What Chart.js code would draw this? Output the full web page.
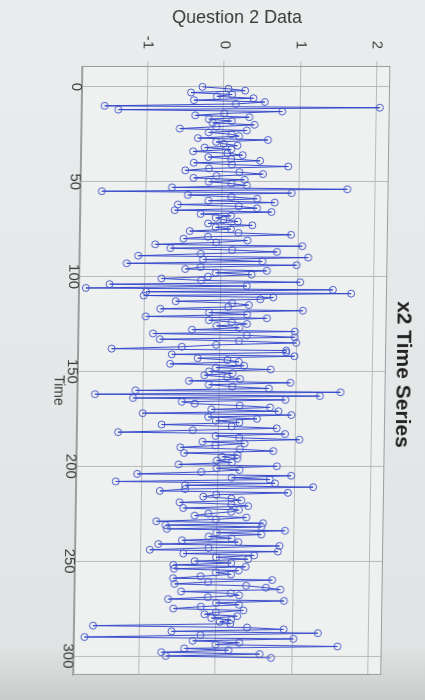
<!DOCTYPE html>
<html><head><meta charset="utf-8">
<script src="https://cdn.jsdelivr.net/npm/chart.js@4.4.1/dist/chart.umd.min.js"></script>
<style>
html,body{margin:0;padding:0;width:425px;height:700px;overflow:hidden;}
body{background:linear-gradient(#eaeded 0%, #e1e4e4 92%, #c9ccca 100%);}
#wrap{position:absolute;left:0;top:0;width:700px;height:425px;transform-origin:0 0;transform:matrix(-0.015,1,-1,0,426.35,0);}
</style></head><body>
<div id="wrap"><canvas id="c" width="700" height="425"></canvas></div>
<script>
const chartTitle = 'x2 Time Series';
const valueAxisTitle = 'Question 2 Data';
const timeAxisTitle = 'Time';
const timeStart = 0;
const x2Values = [
-0.28,0.06,0.28,-0.43,0.11,-0.09,0.39,-0.39,0.54,0.16,
-1.56,2.05,-1.38,0.77,0.01,-0.37,0.34,-0.19,0.11,-0.14,
0.41,-0.09,-0.57,0.31,-0.19,0.11,0.21,-0.33,0.59,-0.09,
0.01,0.19,-0.24,0.11,-0.39,0.06,0.26,-0.19,0.11,0.49,
-0.38,0.12,0.86,-0.18,-0.49,0.22,0.53,-0.08,-0.38,0.29,
-0.18,0.12,0.32,-0.66,1.64,-1.58,0.91,-0.45,0.12,0.46,
-0.18,0.69,-0.58,0.22,0.46,-0.62,0.65,-0.28,0.12,-0.08,
0.02,0.21,-0.18,0.40,-0.08,0.12,-0.42,0.22,0.91,-0.18,
-0.50,0.34,-0.07,-0.87,1.06,-0.67,0.14,0.73,-0.27,-1.09,
1.14,-0.24,0.54,-1.24,0.99,-0.27,-0.47,0.60,-0.07,0.40,
-0.17,-0.78,-0.26,1.04,-1.46,0.34,-1.77,1.47,-0.98,1.71,
-1.01,0.69,0.52,-0.59,0.15,0.37,0.10,-0.79,1.08,-0.15,
0.35,-0.98,0.61,-0.15,0.15,0.35,-0.05,0.25,-0.37,0.98,
-0.88,0.35,0.98,-0.79,0.25,1.00,-0.05,-0.50,-1.42,0.87,
0.87,-0.63,0.98,-0.29,0.10,0.25,-0.65,0.32,-0.05,0.67,
-0.14,0.17,-0.20,0.10,0.27,-0.40,0.93,-0.14,0.17,0.65,
-1.10,1.59,-1.63,1.32,-1.13,0.87,-0.49,-0.32,0.27,0.67,
-0.10,0.78,-1.00,0.95,-0.14,0.50,-0.04,0.27,-0.75,0.17,
0.76,-0.34,-1.32,0.87,-0.04,0.27,1.06,-0.21,0.34,-0.04,
-0.50,0.28,0.72,-0.45,0.25,0.05,0.25,-0.02,0.18,-0.52,
0.77,-0.02,0.28,-0.22,-1.06,0.96,0.18,0.68,-1.34,0.75,
-0.43,1.25,-0.43,-0.76,0.92,-0.02,-0.19,0.18,0.31,-0.50,
0.18,0.40,-0.45,0.28,0.18,-0.12,-0.30,0.38,-0.02,-0.80,
0.60,-0.68,0.58,-0.66,0.89,-0.01,0.58,-0.11,0.19,-0.46,
0.28,-0.77,0.82,-0.11,-0.88,0.80,-0.44,0.49,-0.01,0.41,
-0.29,0.19,-0.57,0.38,-0.56,0.29,-0.01,0.19,-0.21,-0.57,
0.73,-0.11,-0.55,0.39,0.65,0.84,-0.46,0.19,0.30,-0.11,
-0.63,0.89,0.00,0.30,-0.20,-0.56,0.36,0.00,-0.15,0.28,
-0.06,0.20,0.05,0.19,-1.61,0.41,0.89,-0.58,1.34,-0.20,
-1.72,1.02,-0.30,0.31,0.00,1.60,-0.41,0.17,-0.71,0.58,
-0.65,0.73
];
const timeTicks = [0,50,100,150,200,250,300];
const valueTicks = [-1,0,1,2];

Chart.defaults.font.family = "'Liberation Sans', Arial, sans-serif";
Chart.defaults.color = '#3a3a3a';

const points = x2Values.map((v, i) => ({x: timeStart + i, y: v}));

const framePlugin = {
  id: 'frame',
  beforeDraw(chart) {
    const {ctx, chartArea: a} = chart;
    ctx.save();
    ctx.fillStyle = '#eff1f0';
    ctx.fillRect(a.left, a.top, a.right - a.left, a.bottom - a.top);
    ctx.restore();
  },
  afterDraw(chart) {
    const {ctx, chartArea: a} = chart;
    ctx.save();
    ctx.strokeStyle = '#9a9e9e';
    ctx.lineWidth = 1;
    ctx.strokeRect(a.left + 0.5, a.top + 0.5, a.right - a.left - 1, a.bottom - a.top - 1);
    const cx = (a.left + a.right) / 2;
    ctx.fillStyle = '#222';
    ctx.textAlign = 'center';
    ctx.textBaseline = 'middle';
    ctx.font = "bold 21px 'Liberation Sans', Arial, sans-serif";
    ctx.fillText(chartTitle, cx + 4, 18.5);
    ctx.fillStyle = '#3a3a3a';
    ctx.font = "14px 'Liberation Sans', Arial, sans-serif";
    ctx.fillText(timeAxisTitle, cx + 20, a.bottom + 19);
    ctx.restore();
  }
};

new Chart(document.getElementById('c'), {
  type: 'line',
  data: {
    datasets: [{
      data: points,
      borderColor: 'rgba(45,65,200,0.95)',
      borderWidth: 1,
      pointRadius: 3.5,
      pointBorderWidth: 1,
      pointBorderColor: 'rgba(60,80,200,0.9)',
      pointBackgroundColor: 'rgba(0,0,0,0)',
      tension: 0,
      fill: false
    }]
  },
  options: {
    responsive: false,
    animation: false,
    devicePixelRatio: 1,
    layout: {padding: {top: 35, right: 25, bottom: 0, left: 0}},
    plugins: {
      legend: {display: false},
      tooltip: {enabled: false},
      title: {display: false}
    },
    scales: {
      x: {
        type: 'linear', min: -11, max: 310,
        afterBuildTicks: s => { s.ticks = timeTicks.map(v => ({value: v})); },
        afterFit: s => { s.height = 82; },
        ticks: {font: {size: 15}, maxRotation: 0, padding: -3},
        grid: {color: '#b7bbbb', drawTicks: false},
        border: {color: '#9a9e9e'}
      },
      y: {
        type: 'linear', min: -1.86, max: 2.18,
        afterBuildTicks: s => { s.ticks = valueTicks.map(v => ({value: v})); },
        afterFit: s => { s.width = 66; },
        ticks: {font: {size: 15}, padding: 12},
        grid: {color: '#b7bbbb', tickLength: 5},
        border: {color: '#9a9e9e'},
        title: {display: true, text: valueAxisTitle, font: {size: 18}, padding: {top: 7, bottom: 0}}
      }
    }
  },
  plugins: [framePlugin]
});
</script>
</body></html>
